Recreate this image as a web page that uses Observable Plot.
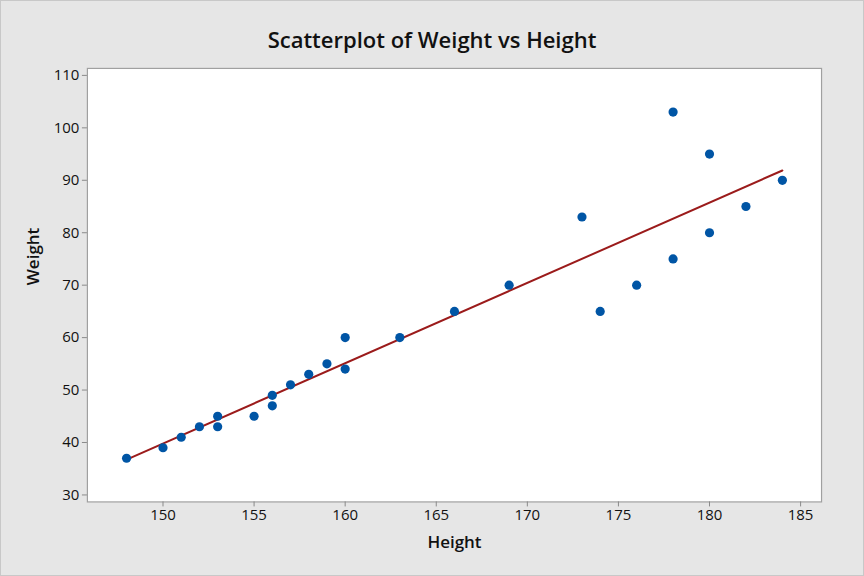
<!DOCTYPE html>
<html>
<head>
<meta charset="utf-8">
<script src="https://cdn.jsdelivr.net/npm/d3@7"></script>
<script src="https://cdn.jsdelivr.net/npm/@observablehq/plot@0.6"></script>
<style>
  html, body { margin: 0; padding: 0; background: #e6e6e6; }
  #wrap { position: relative; width: 862px; height: 574px; background: #e6e6e6; border: 1px solid #c8c8c8; font-family: "Open Sans", "Noto Sans", sans-serif; overflow: hidden; }
  #title { position: absolute; top: 23px; left: 0; width: 862px; text-align: center; font-size: 22px; font-weight: 600; color: #111; }
  #chart { position: absolute; left: -1px; top: -1px; }
</style>
</head>
<body>
<div id="wrap">
  <div id="title">Scatterplot of Weight vs Height</div>
  <div id="chart"></div>
</div>
<script>
const height = [148, 150, 151, 152, 153, 153, 155, 156, 156, 157, 158, 159, 160, 160, 163, 166, 169, 173, 174, 176, 178, 178, 180, 180, 182, 184];
const weight = [37, 39, 41, 43, 45, 43, 45, 49, 47, 51, 53, 55, 60, 54, 60, 65, 70, 83, 65, 70, 103, 75, 95, 80, 85, 90];
const xTicks = [150, 155, 160, 165, 170, 175, 180, 185];
const yTicks = [30, 40, 50, 60, 70, 80, 90, 100, 110];

const data = height.map((h, i) => ({Height: h, Weight: weight[i]}));

const chart = Plot.plot({
  width: 864,
  height: 576,
  marginLeft: 87,
  marginRight: 42,
  marginTop: 68,
  marginBottom: 74,
  style: {background: "transparent", fontFamily: "'Open Sans', 'Noto Sans', sans-serif", fontSize: "15px", color: "#111"},
  x: {domain: [145.85, 186.15]},
  y: {domain: [28.67, 111.33]},
  marks: [
    Plot.frame({fill: "white", stroke: "#a0a0a0", strokeWidth: 1.2}),
    Plot.axisX({ticks: xTicks, tickSize: 5, tickPadding: 2, stroke: "#8a8a8a", label: null, fontSize: 15}),
    Plot.axisY({ticks: yTicks, tickSize: 5, tickPadding: 3, stroke: "#8a8a8a", label: null, fontSize: 15}),
    Plot.text(["Height"], {frameAnchor: "bottom", dy: 46, fontSize: 17, fontWeight: 600, fill: "#111"}),
    Plot.text(["Weight"], {frameAnchor: "left", dx: -54, rotate: -90, fontSize: 17, fontWeight: 600, fill: "#111"}),
    Plot.linearRegressionY(data, {x: "Height", y: "Weight", ci: 0, stroke: "#9b1b1b", strokeWidth: 2}),
    Plot.dot(data, {x: "Height", y: "Weight", r: 4.6, fill: "#0055a5", stroke: "none"})
  ]
});
document.getElementById("chart").appendChild(chart);
</script>
</body>
</html>
